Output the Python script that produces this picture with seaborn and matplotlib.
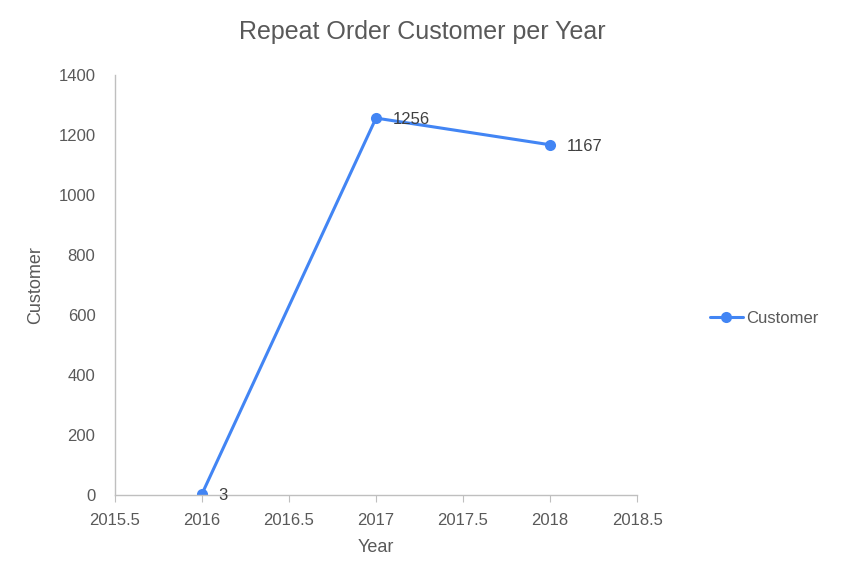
import matplotlib
matplotlib.use("Agg")
import matplotlib.pyplot as plt
import seaborn as sns
import pandas as pd

years = [2016, 2017, 2018]
customers = [3, 1256, 1167]

df = pd.DataFrame({'Year': years, 'Customer': customers})

sns.set_style('white')
plt.rcParams['font.family'] = ['Liberation Sans', 'DejaVu Sans']
grey = '#595959'
blue = '#4285F4'

fig = plt.figure(figsize=(8.45, 5.85), dpi=100)
ax = fig.add_axes([0.136, 0.154, 0.618, 0.718])

sns.lineplot(data=df, x='Year', y='Customer', marker='o', color=blue,
             linewidth=2.2, markersize=8, markeredgewidth=0, label='Customer', ax=ax)

for x, y in zip(years, customers):
    ax.annotate(str(y), (x, y), xytext=(12, -1), textcoords='offset points',
                va='center', ha='left', fontsize=12, color='#404040')

ax.set_xlim(2015.5, 2018.5)
ax.set_ylim(0, 1400)
ax.set_xticks([2015.5, 2016, 2016.5, 2017, 2017.5, 2018, 2018.5])
ax.set_xticklabels(['2015.5', '2016', '2016.5', '2017', '2017.5', '2018', '2018.5'])
ax.set_yticks(range(0, 1401, 200))

for s in ['top', 'right']:
    ax.spines[s].set_visible(False)
for s in ['left', 'bottom']:
    ax.spines[s].set_color('#bfbfbf')
    ax.spines[s].set_linewidth(1)
ax.tick_params(axis='x', length=5, color='#bfbfbf', labelsize=12, labelcolor=grey,
               direction='out', bottom=True, pad=8)
ax.tick_params(axis='y', length=0, labelsize=12, labelcolor=grey, pad=14)

ax.set_xlabel('Year', fontsize=13, color=grey, labelpad=8)
ax.set_ylabel('Customer', fontsize=13, color=grey, labelpad=10)
fig.suptitle('Repeat Order Customer per Year', fontsize=18, color=grey, y=0.965)

ax.legend(loc='center left', bbox_to_anchor=(1.11, 0.42), frameon=False,
          fontsize=12, labelcolor=grey, handlelength=2, handletextpad=0.2)

fig.savefig('out.png', dpi=100)
